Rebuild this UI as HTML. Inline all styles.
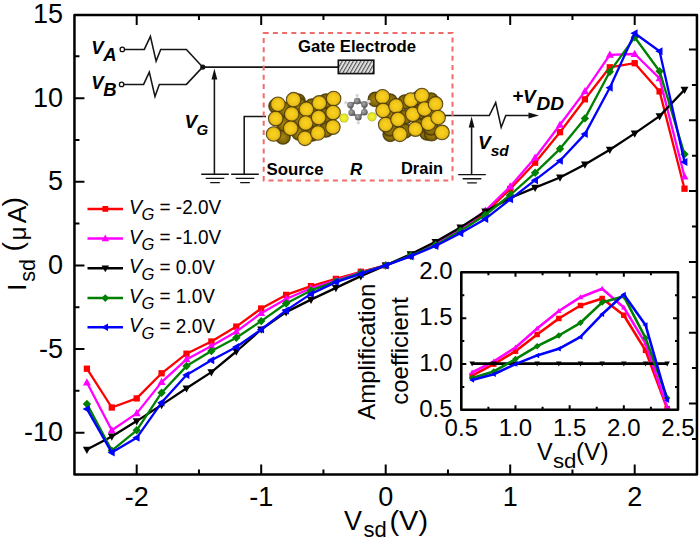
<!DOCTYPE html><html><head><meta charset="utf-8"><style>html,body{margin:0;padding:0;background:#fff;overflow:hidden}</style></head><body><svg width="700" height="541" viewBox="0 0 700 541" style="display:block;font-family:'Liberation Sans', sans-serif">
<defs>
<radialGradient id="au" cx="0.5" cy="0.5" r="0.55">
 <stop offset="0" stop-color="#fad41e"/>
 <stop offset="0.6" stop-color="#f0c41a"/>
 <stop offset="0.85" stop-color="#d4aa14"/>
 <stop offset="1" stop-color="#5a4808"/>
</radialGradient>
<radialGradient id="aud" cx="0.5" cy="0.5" r="0.55">
 <stop offset="0" stop-color="#a8860e"/>
 <stop offset="0.7" stop-color="#806608"/>
 <stop offset="1" stop-color="#3a2c04"/>
</radialGradient>
<radialGradient id="sul" cx="0.5" cy="0.5" r="0.55">
 <stop offset="0" stop-color="#f4f43c"/>
 <stop offset="0.7" stop-color="#e2e228"/>
 <stop offset="1" stop-color="#9a9a10"/>
</radialGradient>
<radialGradient id="car" cx="0.40" cy="0.38" r="0.65">
 <stop offset="0" stop-color="#a8a8a8"/>
 <stop offset="0.6" stop-color="#7a7a7a"/>
 <stop offset="1" stop-color="#4a4a4a"/>
</radialGradient>
<pattern id="hatch" width="3.2" height="3.2" patternUnits="userSpaceOnUse" patternTransform="rotate(30)">
 <rect width="3.2" height="3.2" fill="#e0e0e0"/>
 <rect width="1.1" height="3.2" fill="#505050"/>
</pattern>
</defs>
<rect width="700" height="541" fill="#fff"/>
<path d="M74.45,98.15h10 M74.45,181.77h10 M74.45,265.40h10 M74.45,349.02h10 M74.45,432.65h10 M74.45,56.34h5 M74.45,139.96h5 M74.45,223.59h5 M74.45,307.21h5 M74.45,390.84h5 M136.70,474.46v-10 M136.70,15.00v10 M261.20,474.46v-10 M261.20,15.00v10 M385.70,474.46v-10 M385.70,15.00v10 M510.20,474.46v-10 M510.20,15.00v10 M634.70,474.46v-10 M634.70,15.00v10 M198.95,474.46v-5 M198.95,15.00v5 M323.45,474.46v-5 M323.45,15.00v5 M447.95,474.46v-5 M447.95,15.00v5 M572.45,474.46v-5 M572.45,15.00v5 M696.95,49.50h-8 M696.95,84.90h-5 M696.95,120.30h-8 M696.95,155.70h-5 M696.95,191.10h-8 M696.95,226.50h-5 M696.95,261.90h-8 M696.95,297.30h-5 M696.95,332.70h-8 M696.95,368.10h-5 M696.95,403.50h-8 M696.95,438.90h-5" stroke="#000" stroke-width="2" fill="none"/>
<text x="63" y="23.1" font-size="27" text-anchor="end">15</text>
<text x="63" y="106.7" font-size="27" text-anchor="end">10</text>
<text x="63" y="190.4" font-size="27" text-anchor="end">5</text>
<text x="63" y="274.0" font-size="27" text-anchor="end">0</text>
<text x="63" y="357.6" font-size="27" text-anchor="end">-5</text>
<text x="63" y="441.2" font-size="27" text-anchor="end">-10</text>
<text x="136.7" y="505.9" font-size="27" text-anchor="middle">-2</text>
<text x="261.2" y="505.9" font-size="27" text-anchor="middle">-1</text>
<text x="385.7" y="505.9" font-size="27" text-anchor="middle">0</text>
<text x="510.2" y="505.9" font-size="27" text-anchor="middle">1</text>
<text x="634.7" y="505.9" font-size="27" text-anchor="middle">2</text>
<text x="344" y="529.5" font-size="27">V</text>
<text x="363.5" y="537.2" font-size="22">sd</text>
<text x="389.5" y="529.5" font-size="27" textLength="38.5" lengthAdjust="spacingAndGlyphs">(V)</text>
<g transform="translate(26,291) rotate(-90)"><text x="0" y="0" font-size="26.5">I</text><text x="9.3" y="8.5" font-size="21.5">sd</text><text x="39.6" y="-4" font-size="28.5">(</text><text x="50.5" y="0" font-size="24.5">μ</text><text x="67.8" y="0" font-size="26.5">A</text><text x="84.5" y="-4" font-size="28.5">)</text></g>
<polyline points="86.90,368.70 111.80,407.50 136.70,398.40 161.60,373.30 186.50,353.70 211.40,341.50 236.30,326.60 261.20,308.50 286.10,294.90 311.00,286.10 335.90,278.90 360.80,271.80 385.70,265.40 410.60,255.70 435.50,244.50 460.40,230.00 485.30,212.90 510.20,189.00 535.10,162.70 560.00,132.20 584.90,99.30 609.80,67.30 634.70,63.20 659.60,91.40 684.50,188.70" fill="none" stroke="#ff0000" stroke-width="2.3" stroke-linejoin="round"/>
<rect x="83.75" y="365.55" width="6.30" height="6.30" fill="#ff0000"/>
<rect x="108.65" y="404.35" width="6.30" height="6.30" fill="#ff0000"/>
<rect x="133.55" y="395.25" width="6.30" height="6.30" fill="#ff0000"/>
<rect x="158.45" y="370.15" width="6.30" height="6.30" fill="#ff0000"/>
<rect x="183.35" y="350.55" width="6.30" height="6.30" fill="#ff0000"/>
<rect x="208.25" y="338.35" width="6.30" height="6.30" fill="#ff0000"/>
<rect x="233.15" y="323.45" width="6.30" height="6.30" fill="#ff0000"/>
<rect x="258.05" y="305.35" width="6.30" height="6.30" fill="#ff0000"/>
<rect x="282.95" y="291.75" width="6.30" height="6.30" fill="#ff0000"/>
<rect x="307.85" y="282.95" width="6.30" height="6.30" fill="#ff0000"/>
<rect x="332.75" y="275.75" width="6.30" height="6.30" fill="#ff0000"/>
<rect x="357.65" y="268.65" width="6.30" height="6.30" fill="#ff0000"/>
<rect x="382.55" y="262.25" width="6.30" height="6.30" fill="#ff0000"/>
<rect x="407.45" y="252.55" width="6.30" height="6.30" fill="#ff0000"/>
<rect x="432.35" y="241.35" width="6.30" height="6.30" fill="#ff0000"/>
<rect x="457.25" y="226.85" width="6.30" height="6.30" fill="#ff0000"/>
<rect x="482.15" y="209.75" width="6.30" height="6.30" fill="#ff0000"/>
<rect x="507.05" y="185.85" width="6.30" height="6.30" fill="#ff0000"/>
<rect x="531.95" y="159.55" width="6.30" height="6.30" fill="#ff0000"/>
<rect x="556.85" y="129.05" width="6.30" height="6.30" fill="#ff0000"/>
<rect x="581.75" y="96.15" width="6.30" height="6.30" fill="#ff0000"/>
<rect x="606.65" y="64.15" width="6.30" height="6.30" fill="#ff0000"/>
<rect x="631.55" y="60.05" width="6.30" height="6.30" fill="#ff0000"/>
<rect x="656.45" y="88.25" width="6.30" height="6.30" fill="#ff0000"/>
<rect x="681.35" y="185.55" width="6.30" height="6.30" fill="#ff0000"/>
<polyline points="86.90,382.50 111.80,430.30 136.70,413.40 161.60,382.10 186.50,359.40 211.40,345.90 236.30,331.70 261.20,313.20 286.10,299.00 311.00,288.30 335.90,280.40 360.80,272.40 385.70,265.40 410.60,255.70 435.50,243.90 460.40,229.50 485.30,210.70 510.20,186.50 535.10,157.70 560.00,124.80 584.90,91.40 609.80,54.80 634.70,54.00 659.60,78.40 684.50,176.50" fill="none" stroke="#ff00ff" stroke-width="2.3" stroke-linejoin="round"/>
<path d="M86.90,378.18L90.90,385.38L82.90,385.38Z" fill="#ff00ff"/>
<path d="M111.80,425.98L115.80,433.18L107.80,433.18Z" fill="#ff00ff"/>
<path d="M136.70,409.08L140.70,416.28L132.70,416.28Z" fill="#ff00ff"/>
<path d="M161.60,377.78L165.60,384.98L157.60,384.98Z" fill="#ff00ff"/>
<path d="M186.50,355.08L190.50,362.28L182.50,362.28Z" fill="#ff00ff"/>
<path d="M211.40,341.58L215.40,348.78L207.40,348.78Z" fill="#ff00ff"/>
<path d="M236.30,327.38L240.30,334.58L232.30,334.58Z" fill="#ff00ff"/>
<path d="M261.20,308.88L265.20,316.08L257.20,316.08Z" fill="#ff00ff"/>
<path d="M286.10,294.68L290.10,301.88L282.10,301.88Z" fill="#ff00ff"/>
<path d="M311.00,283.98L315.00,291.18L307.00,291.18Z" fill="#ff00ff"/>
<path d="M335.90,276.08L339.90,283.28L331.90,283.28Z" fill="#ff00ff"/>
<path d="M360.80,268.08L364.80,275.28L356.80,275.28Z" fill="#ff00ff"/>
<path d="M385.70,261.08L389.70,268.28L381.70,268.28Z" fill="#ff00ff"/>
<path d="M410.60,251.38L414.60,258.58L406.60,258.58Z" fill="#ff00ff"/>
<path d="M435.50,239.58L439.50,246.78L431.50,246.78Z" fill="#ff00ff"/>
<path d="M460.40,225.18L464.40,232.38L456.40,232.38Z" fill="#ff00ff"/>
<path d="M485.30,206.38L489.30,213.58L481.30,213.58Z" fill="#ff00ff"/>
<path d="M510.20,182.18L514.20,189.38L506.20,189.38Z" fill="#ff00ff"/>
<path d="M535.10,153.38L539.10,160.58L531.10,160.58Z" fill="#ff00ff"/>
<path d="M560.00,120.48L564.00,127.68L556.00,127.68Z" fill="#ff00ff"/>
<path d="M584.90,87.08L588.90,94.28L580.90,94.28Z" fill="#ff00ff"/>
<path d="M609.80,50.48L613.80,57.68L605.80,57.68Z" fill="#ff00ff"/>
<path d="M634.70,49.68L638.70,56.88L630.70,56.88Z" fill="#ff00ff"/>
<path d="M659.60,74.08L663.60,81.28L655.60,81.28Z" fill="#ff00ff"/>
<path d="M684.50,172.18L688.50,179.38L680.50,179.38Z" fill="#ff00ff"/>
<polyline points="86.90,449.60 111.80,436.40 136.70,421.10 161.60,404.90 186.50,388.30 211.40,372.10 236.30,351.50 261.20,329.50 286.10,312.10 311.00,299.60 335.90,287.90 360.80,276.10 385.70,265.40 410.60,254.20 435.50,241.80 460.40,227.40 485.30,211.40 510.20,198.00 535.10,187.60 560.00,177.50 584.90,164.50 609.80,149.70 634.70,133.40 659.60,116.10 684.50,89.70" fill="none" stroke="#000000" stroke-width="2.3" stroke-linejoin="round"/>
<path d="M86.90,453.92L90.90,446.72L82.90,446.72Z" fill="#000000"/>
<path d="M111.80,440.72L115.80,433.52L107.80,433.52Z" fill="#000000"/>
<path d="M136.70,425.42L140.70,418.22L132.70,418.22Z" fill="#000000"/>
<path d="M161.60,409.22L165.60,402.02L157.60,402.02Z" fill="#000000"/>
<path d="M186.50,392.62L190.50,385.42L182.50,385.42Z" fill="#000000"/>
<path d="M211.40,376.42L215.40,369.22L207.40,369.22Z" fill="#000000"/>
<path d="M236.30,355.82L240.30,348.62L232.30,348.62Z" fill="#000000"/>
<path d="M261.20,333.82L265.20,326.62L257.20,326.62Z" fill="#000000"/>
<path d="M286.10,316.42L290.10,309.22L282.10,309.22Z" fill="#000000"/>
<path d="M311.00,303.92L315.00,296.72L307.00,296.72Z" fill="#000000"/>
<path d="M335.90,292.22L339.90,285.02L331.90,285.02Z" fill="#000000"/>
<path d="M360.80,280.42L364.80,273.22L356.80,273.22Z" fill="#000000"/>
<path d="M385.70,269.72L389.70,262.52L381.70,262.52Z" fill="#000000"/>
<path d="M410.60,258.52L414.60,251.32L406.60,251.32Z" fill="#000000"/>
<path d="M435.50,246.12L439.50,238.92L431.50,238.92Z" fill="#000000"/>
<path d="M460.40,231.72L464.40,224.52L456.40,224.52Z" fill="#000000"/>
<path d="M485.30,215.72L489.30,208.52L481.30,208.52Z" fill="#000000"/>
<path d="M510.20,202.32L514.20,195.12L506.20,195.12Z" fill="#000000"/>
<path d="M535.10,191.92L539.10,184.72L531.10,184.72Z" fill="#000000"/>
<path d="M560.00,181.82L564.00,174.62L556.00,174.62Z" fill="#000000"/>
<path d="M584.90,168.82L588.90,161.62L580.90,161.62Z" fill="#000000"/>
<path d="M609.80,154.02L613.80,146.82L605.80,146.82Z" fill="#000000"/>
<path d="M634.70,137.72L638.70,130.52L630.70,130.52Z" fill="#000000"/>
<path d="M659.60,120.42L663.60,113.22L655.60,113.22Z" fill="#000000"/>
<path d="M684.50,94.02L688.50,86.82L680.50,86.82Z" fill="#000000"/>
<polyline points="86.90,403.90 111.80,450.60 136.70,430.30 161.60,392.70 186.50,366.10 211.40,351.00 236.30,337.70 261.20,321.10 286.10,303.50 311.00,290.40 335.90,281.40 360.80,272.90 385.70,265.40 410.60,255.70 435.50,245.00 460.40,231.00 485.30,215.00 510.20,195.00 535.10,172.80 560.00,148.80 584.90,118.40 609.80,71.70 634.70,37.30 659.60,71.20 684.50,154.30" fill="none" stroke="#008000" stroke-width="2.3" stroke-linejoin="round"/>
<path d="M86.90,399.70L91.10,403.90L86.90,408.10L82.70,403.90Z" fill="#008000"/>
<path d="M111.80,446.40L116.00,450.60L111.80,454.80L107.60,450.60Z" fill="#008000"/>
<path d="M136.70,426.10L140.90,430.30L136.70,434.50L132.50,430.30Z" fill="#008000"/>
<path d="M161.60,388.50L165.80,392.70L161.60,396.90L157.40,392.70Z" fill="#008000"/>
<path d="M186.50,361.90L190.70,366.10L186.50,370.30L182.30,366.10Z" fill="#008000"/>
<path d="M211.40,346.80L215.60,351.00L211.40,355.20L207.20,351.00Z" fill="#008000"/>
<path d="M236.30,333.50L240.50,337.70L236.30,341.90L232.10,337.70Z" fill="#008000"/>
<path d="M261.20,316.90L265.40,321.10L261.20,325.30L257.00,321.10Z" fill="#008000"/>
<path d="M286.10,299.30L290.30,303.50L286.10,307.70L281.90,303.50Z" fill="#008000"/>
<path d="M311.00,286.20L315.20,290.40L311.00,294.60L306.80,290.40Z" fill="#008000"/>
<path d="M335.90,277.20L340.10,281.40L335.90,285.60L331.70,281.40Z" fill="#008000"/>
<path d="M360.80,268.70L365.00,272.90L360.80,277.10L356.60,272.90Z" fill="#008000"/>
<path d="M385.70,261.20L389.90,265.40L385.70,269.60L381.50,265.40Z" fill="#008000"/>
<path d="M410.60,251.50L414.80,255.70L410.60,259.90L406.40,255.70Z" fill="#008000"/>
<path d="M435.50,240.80L439.70,245.00L435.50,249.20L431.30,245.00Z" fill="#008000"/>
<path d="M460.40,226.80L464.60,231.00L460.40,235.20L456.20,231.00Z" fill="#008000"/>
<path d="M485.30,210.80L489.50,215.00L485.30,219.20L481.10,215.00Z" fill="#008000"/>
<path d="M510.20,190.80L514.40,195.00L510.20,199.20L506.00,195.00Z" fill="#008000"/>
<path d="M535.10,168.60L539.30,172.80L535.10,177.00L530.90,172.80Z" fill="#008000"/>
<path d="M560.00,144.60L564.20,148.80L560.00,153.00L555.80,148.80Z" fill="#008000"/>
<path d="M584.90,114.20L589.10,118.40L584.90,122.60L580.70,118.40Z" fill="#008000"/>
<path d="M609.80,67.50L614.00,71.70L609.80,75.90L605.60,71.70Z" fill="#008000"/>
<path d="M634.70,33.10L638.90,37.30L634.70,41.50L630.50,37.30Z" fill="#008000"/>
<path d="M659.60,67.00L663.80,71.20L659.60,75.40L655.40,71.20Z" fill="#008000"/>
<path d="M684.50,150.10L688.70,154.30L684.50,158.50L680.30,154.30Z" fill="#008000"/>
<polyline points="86.90,408.90 111.80,452.60 136.70,437.80 161.60,402.60 186.50,375.00 211.40,360.30 236.30,347.00 261.20,329.50 286.10,310.40 311.00,293.90 335.90,282.10 360.80,273.90 385.70,265.40 410.60,256.40 435.50,246.00 460.40,233.20 485.30,218.90 510.20,199.30 535.10,180.20 560.00,160.80 584.90,134.10 609.80,87.80 634.70,33.20 659.60,51.20 684.50,162.10" fill="none" stroke="#0000ff" stroke-width="2.3" stroke-linejoin="round"/>
<path d="M82.58,408.90L89.78,404.90L89.78,412.90Z" fill="#0000ff"/>
<path d="M107.48,452.60L114.68,448.60L114.68,456.60Z" fill="#0000ff"/>
<path d="M132.38,437.80L139.58,433.80L139.58,441.80Z" fill="#0000ff"/>
<path d="M157.28,402.60L164.48,398.60L164.48,406.60Z" fill="#0000ff"/>
<path d="M182.18,375.00L189.38,371.00L189.38,379.00Z" fill="#0000ff"/>
<path d="M207.08,360.30L214.28,356.30L214.28,364.30Z" fill="#0000ff"/>
<path d="M231.98,347.00L239.18,343.00L239.18,351.00Z" fill="#0000ff"/>
<path d="M256.88,329.50L264.08,325.50L264.08,333.50Z" fill="#0000ff"/>
<path d="M281.78,310.40L288.98,306.40L288.98,314.40Z" fill="#0000ff"/>
<path d="M306.68,293.90L313.88,289.90L313.88,297.90Z" fill="#0000ff"/>
<path d="M331.58,282.10L338.78,278.10L338.78,286.10Z" fill="#0000ff"/>
<path d="M356.48,273.90L363.68,269.90L363.68,277.90Z" fill="#0000ff"/>
<path d="M381.38,265.40L388.58,261.40L388.58,269.40Z" fill="#0000ff"/>
<path d="M406.28,256.40L413.48,252.40L413.48,260.40Z" fill="#0000ff"/>
<path d="M431.18,246.00L438.38,242.00L438.38,250.00Z" fill="#0000ff"/>
<path d="M456.08,233.20L463.28,229.20L463.28,237.20Z" fill="#0000ff"/>
<path d="M480.98,218.90L488.18,214.90L488.18,222.90Z" fill="#0000ff"/>
<path d="M505.88,199.30L513.08,195.30L513.08,203.30Z" fill="#0000ff"/>
<path d="M530.78,180.20L537.98,176.20L537.98,184.20Z" fill="#0000ff"/>
<path d="M555.68,160.80L562.88,156.80L562.88,164.80Z" fill="#0000ff"/>
<path d="M580.58,134.10L587.78,130.10L587.78,138.10Z" fill="#0000ff"/>
<path d="M605.48,87.80L612.68,83.80L612.68,91.80Z" fill="#0000ff"/>
<path d="M630.38,33.20L637.58,29.20L637.58,37.20Z" fill="#0000ff"/>
<path d="M655.28,51.20L662.48,47.20L662.48,55.20Z" fill="#0000ff"/>
<path d="M680.18,162.10L687.38,158.10L687.38,166.10Z" fill="#0000ff"/>
<path d="M87.5,208.9H123" stroke="#ff0000" stroke-width="2.5"/>
<rect x="102.40" y="206.00" width="5.80" height="5.80" fill="#ff0000"/>
<text x="128.9" y="213.9" font-size="19.5" font-style="italic">V</text>
<text x="141.6" y="220.2" font-size="16.5" font-style="italic">G</text>
<text x="159.5" y="214.2" font-size="19.5" textLength="61.7" lengthAdjust="spacingAndGlyphs">= -2.0V</text>
<path d="M87.5,238.5H123" stroke="#ff00ff" stroke-width="2.5"/>
<path d="M105.30,234.45L109.05,241.20L101.55,241.20Z" fill="#ff00ff"/>
<text x="128.9" y="243.5" font-size="19.5" font-style="italic">V</text>
<text x="141.6" y="249.8" font-size="16.5" font-style="italic">G</text>
<text x="159.5" y="243.8" font-size="19.5" textLength="61.7" lengthAdjust="spacingAndGlyphs">= -1.0V</text>
<path d="M87.5,268.2H123" stroke="#000000" stroke-width="2.5"/>
<path d="M105.30,272.25L109.05,265.50L101.55,265.50Z" fill="#000000"/>
<text x="128.9" y="273.2" font-size="19.5" font-style="italic">V</text>
<text x="141.6" y="279.5" font-size="16.5" font-style="italic">G</text>
<text x="159.5" y="273.5" font-size="19.5" textLength="55.4" lengthAdjust="spacingAndGlyphs">= 0.0V</text>
<path d="M87.5,298.1H123" stroke="#008000" stroke-width="2.5"/>
<path d="M105.30,294.20L109.20,298.10L105.30,302.00L101.40,298.10Z" fill="#008000"/>
<text x="128.9" y="303.1" font-size="19.5" font-style="italic">V</text>
<text x="141.6" y="309.4" font-size="16.5" font-style="italic">G</text>
<text x="159.5" y="303.4" font-size="19.5" textLength="55.4" lengthAdjust="spacingAndGlyphs">= 1.0V</text>
<path d="M87.5,327.3H123" stroke="#0000ff" stroke-width="2.5"/>
<path d="M101.25,327.30L108.00,323.55L108.00,331.05Z" fill="#0000ff"/>
<text x="128.9" y="332.3" font-size="19.5" font-style="italic">V</text>
<text x="141.6" y="338.6" font-size="16.5" font-style="italic">G</text>
<text x="159.5" y="332.6" font-size="19.5" textLength="55.4" lengthAdjust="spacingAndGlyphs">= 2.0V</text>
<path d="M124.6,49.4H144.3L150.4,36.4L156.1,61.1L160.7,49.4H186.4L202.6,67.1" stroke="#151515" stroke-width="1.55" fill="none"/>
<path d="M124,84.4H143.6L149.3,72.1L155,96.4L159.3,84.4H186.4L202.6,67.1" stroke="#151515" stroke-width="1.55" fill="none"/>
<circle cx="122.3" cy="49.4" r="2.2" stroke="#111" stroke-width="1.3" fill="#fff"/>
<circle cx="121.6" cy="84.4" r="2.2" stroke="#111" stroke-width="1.3" fill="#fff"/>
<circle cx="202.8" cy="67.1" r="2.6" fill="#111"/>
<path d="M202.8,67.1H338" stroke="#151515" stroke-width="1.55" fill="none"/>
<rect x="338.3" y="60.2" width="35.5" height="13.4" fill="url(#hatch)" stroke="#111" stroke-width="1.6"/>
<path d="M214.4,174.1V76" stroke="#151515" stroke-width="1.55" fill="none"/>
<path d="M214.4,68.4L217.3,79.5L211.5,79.5Z" fill="#111"/>
<path d="M201.2,174.3h27.6M205.7,178.4h18.6M210.2,182.6h9.6" stroke="#111" stroke-width="1.4"/>
<path d="M244.2,174.1V116.4H266" stroke="#151515" stroke-width="1.55" fill="none"/>
<path d="M231.2,174.3h27.6M235.7,178.4h18.6M240.2,182.6h9.6" stroke="#111" stroke-width="1.4"/>
<path d="M458.2,174.6h27.6M462.7,178.7h18.6M467.2,182.9h9.6" stroke="#111" stroke-width="1.4"/>
<path d="M445,115.5H489.3L495.7,102.6L501.2,127.3L505.8,115.5H532" stroke="#151515" stroke-width="1.55" fill="none"/>
<path d="M539,115.5L528.5,112.6L528.5,118.4Z" fill="#111"/>
<path d="M471.6,174.6V124" stroke="#151515" stroke-width="1.55" fill="none"/>
<path d="M471.6,116.6L474.5,127.5L468.7,127.5Z" fill="#111"/>
<rect x="263.7" y="33" width="188.8" height="147.4" fill="none" stroke="#f26b6b" stroke-width="2" stroke-dasharray="5,4.2"/>
<text x="91.2" y="53.5" font-size="18.5" font-weight="bold" font-style="italic">V</text><text x="103.3" y="60.6" font-size="18.5" font-weight="bold" font-style="italic">A</text>
<text x="91.2" y="88.5" font-size="18.5" font-weight="bold" font-style="italic">V</text><text x="103.3" y="95.6" font-size="18.5" font-weight="bold" font-style="italic">B</text>
<text x="184.5" y="128.3" font-size="19" font-weight="bold" font-style="italic">V</text><text x="196.5" y="134.6" font-size="15" font-weight="bold" font-style="italic">G</text>
<text x="478" y="149.3" font-size="19" font-weight="bold" font-style="italic">V</text><text x="490.7" y="155.8" font-size="15.5" font-weight="bold" font-style="italic">sd</text>
<text x="512.6" y="102" font-size="19" font-weight="bold">+</text><text x="523" y="103" font-size="19" font-weight="bold" font-style="italic">V</text><text x="536.5" y="110.3" font-size="19" font-weight="bold" font-style="italic">DD</text>
<text x="298" y="51.6" font-size="16.5" font-weight="bold" textLength="118" lengthAdjust="spacingAndGlyphs">Gate Electrode</text>
<text x="266.5" y="174.6" font-size="16" font-weight="bold" textLength="57" lengthAdjust="spacingAndGlyphs">Source</text>
<text x="350" y="174.6" font-size="17" font-weight="bold" font-style="italic">R</text>
<text x="401" y="174.3" font-size="16" font-weight="bold" textLength="42" lengthAdjust="spacingAndGlyphs">Drain</text>
<circle cx="283" cy="137" r="7.3" fill="url(#aud)" stroke="#4a3a08" stroke-opacity="0.85" stroke-width="1.1"/>
<circle cx="298" cy="101" r="7.3" fill="url(#aud)" stroke="#4a3a08" stroke-opacity="0.85" stroke-width="1.1"/>
<circle cx="276" cy="106" r="7.3" fill="url(#aud)" stroke="#4a3a08" stroke-opacity="0.85" stroke-width="1.1"/>
<circle cx="284" cy="109" r="7.3" fill="url(#aud)" stroke="#4a3a08" stroke-opacity="0.85" stroke-width="1.1"/>
<circle cx="284" cy="124" r="7.3" fill="url(#aud)" stroke="#4a3a08" stroke-opacity="0.85" stroke-width="1.1"/>
<circle cx="299" cy="105" r="7.3" fill="url(#aud)" stroke="#4a3a08" stroke-opacity="0.85" stroke-width="1.1"/>
<circle cx="299" cy="119" r="7.3" fill="url(#aud)" stroke="#4a3a08" stroke-opacity="0.85" stroke-width="1.1"/>
<circle cx="299" cy="133" r="7.3" fill="url(#aud)" stroke="#4a3a08" stroke-opacity="0.85" stroke-width="1.1"/>
<circle cx="312" cy="106" r="7.3" fill="url(#aud)" stroke="#4a3a08" stroke-opacity="0.85" stroke-width="1.1"/>
<circle cx="312" cy="120" r="7.3" fill="url(#aud)" stroke="#4a3a08" stroke-opacity="0.85" stroke-width="1.1"/>
<circle cx="312" cy="134" r="7.3" fill="url(#aud)" stroke="#4a3a08" stroke-opacity="0.85" stroke-width="1.1"/>
<circle cx="326" cy="101" r="7.3" fill="url(#aud)" stroke="#4a3a08" stroke-opacity="0.85" stroke-width="1.1"/>
<circle cx="326" cy="115" r="7.3" fill="url(#aud)" stroke="#4a3a08" stroke-opacity="0.85" stroke-width="1.1"/>
<circle cx="326" cy="130" r="7.3" fill="url(#aud)" stroke="#4a3a08" stroke-opacity="0.85" stroke-width="1.1"/>
<circle cx="277.9" cy="104.3" r="7.3" fill="url(#au)" stroke="#4a3a08" stroke-opacity="0.85" stroke-width="1.1"/>
<circle cx="293.6" cy="99.7" r="7.3" fill="url(#au)" stroke="#4a3a08" stroke-opacity="0.85" stroke-width="1.1"/>
<circle cx="306.4" cy="109.3" r="7.3" fill="url(#au)" stroke="#4a3a08" stroke-opacity="0.85" stroke-width="1.1"/>
<circle cx="319.3" cy="102.9" r="7.3" fill="url(#au)" stroke="#4a3a08" stroke-opacity="0.85" stroke-width="1.1"/>
<circle cx="333.6" cy="98.6" r="7.3" fill="url(#au)" stroke="#4a3a08" stroke-opacity="0.85" stroke-width="1.1"/>
<circle cx="275.7" cy="118.6" r="7.3" fill="url(#au)" stroke="#4a3a08" stroke-opacity="0.85" stroke-width="1.1"/>
<circle cx="291.7" cy="114" r="7.3" fill="url(#au)" stroke="#4a3a08" stroke-opacity="0.85" stroke-width="1.1"/>
<circle cx="305.7" cy="123.1" r="7.3" fill="url(#au)" stroke="#4a3a08" stroke-opacity="0.85" stroke-width="1.1"/>
<circle cx="318.6" cy="117.4" r="7.3" fill="url(#au)" stroke="#4a3a08" stroke-opacity="0.85" stroke-width="1.1"/>
<circle cx="333.1" cy="112.6" r="7.3" fill="url(#au)" stroke="#4a3a08" stroke-opacity="0.85" stroke-width="1.1"/>
<circle cx="273.6" cy="134" r="7.3" fill="url(#au)" stroke="#4a3a08" stroke-opacity="0.85" stroke-width="1.1"/>
<circle cx="290.7" cy="128.3" r="7.3" fill="url(#au)" stroke="#4a3a08" stroke-opacity="0.85" stroke-width="1.1"/>
<circle cx="305" cy="138.3" r="7.3" fill="url(#au)" stroke="#4a3a08" stroke-opacity="0.85" stroke-width="1.1"/>
<circle cx="317.9" cy="132.9" r="7.3" fill="url(#au)" stroke="#4a3a08" stroke-opacity="0.85" stroke-width="1.1"/>
<circle cx="332.9" cy="127.1" r="7.3" fill="url(#au)" stroke="#4a3a08" stroke-opacity="0.85" stroke-width="1.1"/>
<circle cx="375.3" cy="99.4" r="7.3" fill="url(#aud)" stroke="#4a3a08" stroke-opacity="0.85" stroke-width="1.1"/>
<circle cx="390.2" cy="134.3" r="7.3" fill="url(#aud)" stroke="#4a3a08" stroke-opacity="0.85" stroke-width="1.1"/>
<circle cx="427" cy="133" r="7.3" fill="url(#aud)" stroke="#4a3a08" stroke-opacity="0.85" stroke-width="1.1"/>
<circle cx="431.6" cy="133.7" r="7.3" fill="url(#aud)" stroke="#4a3a08" stroke-opacity="0.85" stroke-width="1.1"/>
<circle cx="405" cy="102" r="7.3" fill="url(#aud)" stroke="#4a3a08" stroke-opacity="0.85" stroke-width="1.1"/>
<circle cx="390" cy="101" r="7.3" fill="url(#aud)" stroke="#4a3a08" stroke-opacity="0.85" stroke-width="1.1"/>
<circle cx="390" cy="115" r="7.3" fill="url(#aud)" stroke="#4a3a08" stroke-opacity="0.85" stroke-width="1.1"/>
<circle cx="390" cy="129" r="7.3" fill="url(#aud)" stroke="#4a3a08" stroke-opacity="0.85" stroke-width="1.1"/>
<circle cx="405" cy="117" r="7.3" fill="url(#aud)" stroke="#4a3a08" stroke-opacity="0.85" stroke-width="1.1"/>
<circle cx="405" cy="131" r="7.3" fill="url(#aud)" stroke="#4a3a08" stroke-opacity="0.85" stroke-width="1.1"/>
<circle cx="419" cy="98" r="7.3" fill="url(#aud)" stroke="#4a3a08" stroke-opacity="0.85" stroke-width="1.1"/>
<circle cx="419" cy="112" r="7.3" fill="url(#aud)" stroke="#4a3a08" stroke-opacity="0.85" stroke-width="1.1"/>
<circle cx="419" cy="126" r="7.3" fill="url(#aud)" stroke="#4a3a08" stroke-opacity="0.85" stroke-width="1.1"/>
<circle cx="431" cy="100" r="7.3" fill="url(#aud)" stroke="#4a3a08" stroke-opacity="0.85" stroke-width="1.1"/>
<circle cx="431" cy="114" r="7.3" fill="url(#aud)" stroke="#4a3a08" stroke-opacity="0.85" stroke-width="1.1"/>
<circle cx="431" cy="128" r="7.3" fill="url(#aud)" stroke="#4a3a08" stroke-opacity="0.85" stroke-width="1.1"/>
<circle cx="382.5" cy="96.8" r="7.3" fill="url(#au)" stroke="#4a3a08" stroke-opacity="0.85" stroke-width="1.1"/>
<circle cx="383.1" cy="110.4" r="7.3" fill="url(#au)" stroke="#4a3a08" stroke-opacity="0.85" stroke-width="1.1"/>
<circle cx="385.7" cy="124.6" r="7.3" fill="url(#au)" stroke="#4a3a08" stroke-opacity="0.85" stroke-width="1.1"/>
<circle cx="396" cy="105.9" r="7.3" fill="url(#au)" stroke="#4a3a08" stroke-opacity="0.85" stroke-width="1.1"/>
<circle cx="398" cy="119.4" r="7.3" fill="url(#au)" stroke="#4a3a08" stroke-opacity="0.85" stroke-width="1.1"/>
<circle cx="399.9" cy="134.3" r="7.3" fill="url(#au)" stroke="#4a3a08" stroke-opacity="0.85" stroke-width="1.1"/>
<circle cx="410.9" cy="100" r="7.3" fill="url(#au)" stroke="#4a3a08" stroke-opacity="0.85" stroke-width="1.1"/>
<circle cx="412.8" cy="114.3" r="7.3" fill="url(#au)" stroke="#4a3a08" stroke-opacity="0.85" stroke-width="1.1"/>
<circle cx="415.4" cy="129.1" r="7.3" fill="url(#au)" stroke="#4a3a08" stroke-opacity="0.85" stroke-width="1.1"/>
<circle cx="421.9" cy="95.5" r="7.3" fill="url(#au)" stroke="#4a3a08" stroke-opacity="0.85" stroke-width="1.1"/>
<circle cx="424.5" cy="109.1" r="7.3" fill="url(#au)" stroke="#4a3a08" stroke-opacity="0.85" stroke-width="1.1"/>
<circle cx="428.4" cy="123.3" r="7.3" fill="url(#au)" stroke="#4a3a08" stroke-opacity="0.85" stroke-width="1.1"/>
<circle cx="435.5" cy="103.9" r="7.3" fill="url(#au)" stroke="#4a3a08" stroke-opacity="0.85" stroke-width="1.1"/>
<circle cx="438.1" cy="117.5" r="7.3" fill="url(#au)" stroke="#4a3a08" stroke-opacity="0.85" stroke-width="1.1"/>
<circle cx="442" cy="132.4" r="7.3" fill="url(#au)" stroke="#4a3a08" stroke-opacity="0.85" stroke-width="1.1"/>
<circle cx="344" cy="118" r="4.6" fill="url(#sul)"/>
<circle cx="372" cy="116.8" r="4.6" fill="url(#sul)"/>
<path d="M357.2,101.1L364.4,104.4L364.4,112.2L358.3,117.2L351.6,112.7L350.5,105Z" fill="none" stroke="#777" stroke-width="2.5"/>
<circle cx="346" cy="102.7" r="1.8" fill="#d8d8d8"/>
<circle cx="368.8" cy="101.6" r="1.8" fill="#d8d8d8"/>
<circle cx="357.2" cy="95.5" r="1.8" fill="#d8d8d8"/>
<circle cx="358.3" cy="122.7" r="1.8" fill="#d8d8d8"/>
<circle cx="357.2" cy="101.1" r="3.3" fill="url(#car)"/>
<circle cx="364.4" cy="104.4" r="3.3" fill="url(#car)"/>
<circle cx="364.4" cy="112.2" r="3.3" fill="url(#car)"/>
<circle cx="358.3" cy="117.2" r="3.3" fill="url(#car)"/>
<circle cx="351.6" cy="112.7" r="3.3" fill="url(#car)"/>
<circle cx="350.5" cy="105" r="3.3" fill="url(#car)"/>
<rect x="461.3" y="272.3" width="216.70" height="137.50" fill="#fff" stroke="none"/>
<path d="M515.48,409.80v-4.5 M515.48,272.30v4.5 M569.65,409.80v-4.5 M569.65,272.30v4.5 M623.83,409.80v-4.5 M623.83,272.30v4.5 M488.39,409.80v-3 M488.39,272.30v3 M542.56,409.80v-3 M542.56,272.30v3 M596.74,409.80v-3 M596.74,272.30v3 M650.91,409.80v-3 M650.91,272.30v3 M461.30,363.97h5 M678.00,363.97h-5 M461.30,318.13h5 M678.00,318.13h-5 M461.30,386.88h3 M678.00,386.88h-3 M461.30,341.05h3 M678.00,341.05h-3 M461.30,295.22h3 M678.00,295.22h-3" stroke="#000" stroke-width="2" fill="none"/>
<text x="452.5" y="279.1" font-size="24" text-anchor="end">2.0</text>
<text x="452.5" y="324.9" font-size="24" text-anchor="end">1.5</text>
<text x="452.5" y="370.8" font-size="24" text-anchor="end">1.0</text>
<text x="452.5" y="416.6" font-size="24" text-anchor="end">0.5</text>
<text x="461.3" y="436.2" font-size="24" text-anchor="middle">0.5</text>
<text x="515.5" y="436.2" font-size="24" text-anchor="middle">1.0</text>
<text x="569.6" y="436.2" font-size="24" text-anchor="middle">1.5</text>
<text x="623.8" y="436.2" font-size="24" text-anchor="middle">2.0</text>
<text x="678.0" y="436.2" font-size="24" text-anchor="middle">2.5</text>
<text x="537" y="460" font-size="23.5">V</text><text x="553" y="468.3" font-size="20.5" textLength="23.5" lengthAdjust="spacingAndGlyphs">sd</text><text x="576" y="460" font-size="23.5" textLength="32.5" lengthAdjust="spacingAndGlyphs">(V)</text>
<text transform="translate(374.5,351.8) rotate(-90)" font-size="24" text-anchor="middle">Amplification</text>
<text transform="translate(407.5,351) rotate(-90)" font-size="24" text-anchor="middle">coefficient</text>
<clipPath id="iclip"><rect x="461.3" y="272.3" width="216.70" height="137.50"/></clipPath>
<g clip-path="url(#iclip)">
<polyline points="472.13,375.70 493.81,364.10 515.48,351.20 537.14,334.50 558.82,318.50 580.49,305.50 602.15,298.50 623.83,315.20 645.50,350.40 667.16,408.60" fill="none" stroke="#ff0000" stroke-width="2.6" stroke-linejoin="round"/>
<rect x="469.38" y="372.95" width="5.50" height="5.50" fill="#ff0000"/>
<rect x="491.06" y="361.35" width="5.50" height="5.50" fill="#ff0000"/>
<rect x="512.73" y="348.45" width="5.50" height="5.50" fill="#ff0000"/>
<rect x="534.39" y="331.75" width="5.50" height="5.50" fill="#ff0000"/>
<rect x="556.07" y="315.75" width="5.50" height="5.50" fill="#ff0000"/>
<rect x="577.74" y="302.75" width="5.50" height="5.50" fill="#ff0000"/>
<rect x="599.40" y="295.75" width="5.50" height="5.50" fill="#ff0000"/>
<rect x="621.08" y="312.45" width="5.50" height="5.50" fill="#ff0000"/>
<rect x="642.75" y="347.65" width="5.50" height="5.50" fill="#ff0000"/>
<rect x="664.41" y="405.85" width="5.50" height="5.50" fill="#ff0000"/>
<polyline points="472.13,372.50 493.81,361.40 515.48,347.50 537.14,328.40 558.82,311.00 580.49,297.20 602.15,288.80 623.83,307.40 645.50,343.40 667.16,407.20" fill="none" stroke="#ff00ff" stroke-width="2.6" stroke-linejoin="round"/>
<path d="M472.13,369.53L474.88,374.48L469.38,374.48Z" fill="#ff00ff"/>
<path d="M493.81,358.43L496.56,363.38L491.06,363.38Z" fill="#ff00ff"/>
<path d="M515.48,344.53L518.23,349.48L512.73,349.48Z" fill="#ff00ff"/>
<path d="M537.14,325.43L539.89,330.38L534.39,330.38Z" fill="#ff00ff"/>
<path d="M558.82,308.03L561.57,312.98L556.07,312.98Z" fill="#ff00ff"/>
<path d="M580.49,294.23L583.24,299.18L577.74,299.18Z" fill="#ff00ff"/>
<path d="M602.15,285.83L604.90,290.78L599.40,290.78Z" fill="#ff00ff"/>
<path d="M623.83,304.43L626.58,309.38L621.08,309.38Z" fill="#ff00ff"/>
<path d="M645.50,340.43L648.25,345.38L642.75,345.38Z" fill="#ff00ff"/>
<path d="M667.16,404.23L669.91,409.18L664.41,409.18Z" fill="#ff00ff"/>
<polyline points="472.13,363.60 493.81,363.60 515.48,363.60 537.14,363.60 558.82,363.60 580.49,363.60 602.15,363.60 623.83,363.60 645.50,363.60 667.16,363.60" fill="none" stroke="#000000" stroke-width="2.7" stroke-linejoin="round"/>
<path d="M472.13,366.57L474.88,361.62L469.38,361.62Z" fill="#000000"/>
<path d="M493.81,366.57L496.56,361.62L491.06,361.62Z" fill="#000000"/>
<path d="M515.48,366.57L518.23,361.62L512.73,361.62Z" fill="#000000"/>
<path d="M537.14,366.57L539.89,361.62L534.39,361.62Z" fill="#000000"/>
<path d="M558.82,366.57L561.57,361.62L556.07,361.62Z" fill="#000000"/>
<path d="M580.49,366.57L583.24,361.62L577.74,361.62Z" fill="#000000"/>
<path d="M602.15,366.57L604.90,361.62L599.40,361.62Z" fill="#000000"/>
<path d="M623.83,366.57L626.58,361.62L621.08,361.62Z" fill="#000000"/>
<path d="M645.50,366.57L648.25,361.62L642.75,361.62Z" fill="#000000"/>
<path d="M667.16,366.57L669.91,361.62L664.41,361.62Z" fill="#000000"/>
<polyline points="472.13,378.00 493.81,371.50 515.48,359.10 537.14,346.20 558.82,335.50 580.49,322.80 602.15,302.40 623.83,296.30 645.50,337.90 667.16,398.00" fill="none" stroke="#008000" stroke-width="2.6" stroke-linejoin="round"/>
<path d="M472.13,374.70L475.44,378.00L472.13,381.30L468.83,378.00Z" fill="#008000"/>
<path d="M493.81,368.20L497.11,371.50L493.81,374.80L490.50,371.50Z" fill="#008000"/>
<path d="M515.48,355.80L518.77,359.10L515.48,362.40L512.18,359.10Z" fill="#008000"/>
<path d="M537.14,342.90L540.44,346.20L537.14,349.50L533.85,346.20Z" fill="#008000"/>
<path d="M558.82,332.20L562.12,335.50L558.82,338.80L555.52,335.50Z" fill="#008000"/>
<path d="M580.49,319.50L583.78,322.80L580.49,326.10L577.19,322.80Z" fill="#008000"/>
<path d="M602.15,299.10L605.45,302.40L602.15,305.70L598.86,302.40Z" fill="#008000"/>
<path d="M623.83,293.00L627.12,296.30L623.83,299.60L620.53,296.30Z" fill="#008000"/>
<path d="M645.50,334.60L648.79,337.90L645.50,341.20L642.20,337.90Z" fill="#008000"/>
<path d="M667.16,394.70L670.46,398.00L667.16,401.30L663.87,398.00Z" fill="#008000"/>
<polyline points="472.13,380.00 493.81,374.30 515.48,364.10 537.14,355.40 558.82,348.80 580.49,336.90 602.15,314.30 623.83,294.40 645.50,324.90 667.16,400.30" fill="none" stroke="#0000ff" stroke-width="2.6" stroke-linejoin="round"/>
<path d="M469.16,380.00L474.12,377.25L474.12,382.75Z" fill="#0000ff"/>
<path d="M490.83,374.30L495.79,371.55L495.79,377.05Z" fill="#0000ff"/>
<path d="M512.50,364.10L517.46,361.35L517.46,366.85Z" fill="#0000ff"/>
<path d="M534.17,355.40L539.12,352.65L539.12,358.15Z" fill="#0000ff"/>
<path d="M555.85,348.80L560.80,346.05L560.80,351.55Z" fill="#0000ff"/>
<path d="M577.51,336.90L582.47,334.15L582.47,339.65Z" fill="#0000ff"/>
<path d="M599.18,314.30L604.13,311.55L604.13,317.05Z" fill="#0000ff"/>
<path d="M620.86,294.40L625.81,291.65L625.81,297.15Z" fill="#0000ff"/>
<path d="M642.52,324.90L647.48,322.15L647.48,327.65Z" fill="#0000ff"/>
<path d="M664.19,400.30L669.14,397.55L669.14,403.05Z" fill="#0000ff"/>
</g>
<rect x="461.3" y="272.3" width="216.70" height="137.50" fill="none" stroke="#000" stroke-width="2.6" stroke-linejoin="round"/>
<rect x="74.45" y="15.00" width="622.50" height="459.46" fill="none" stroke="#000" stroke-width="2.5" stroke-linejoin="round"/>
</svg></body></html>
